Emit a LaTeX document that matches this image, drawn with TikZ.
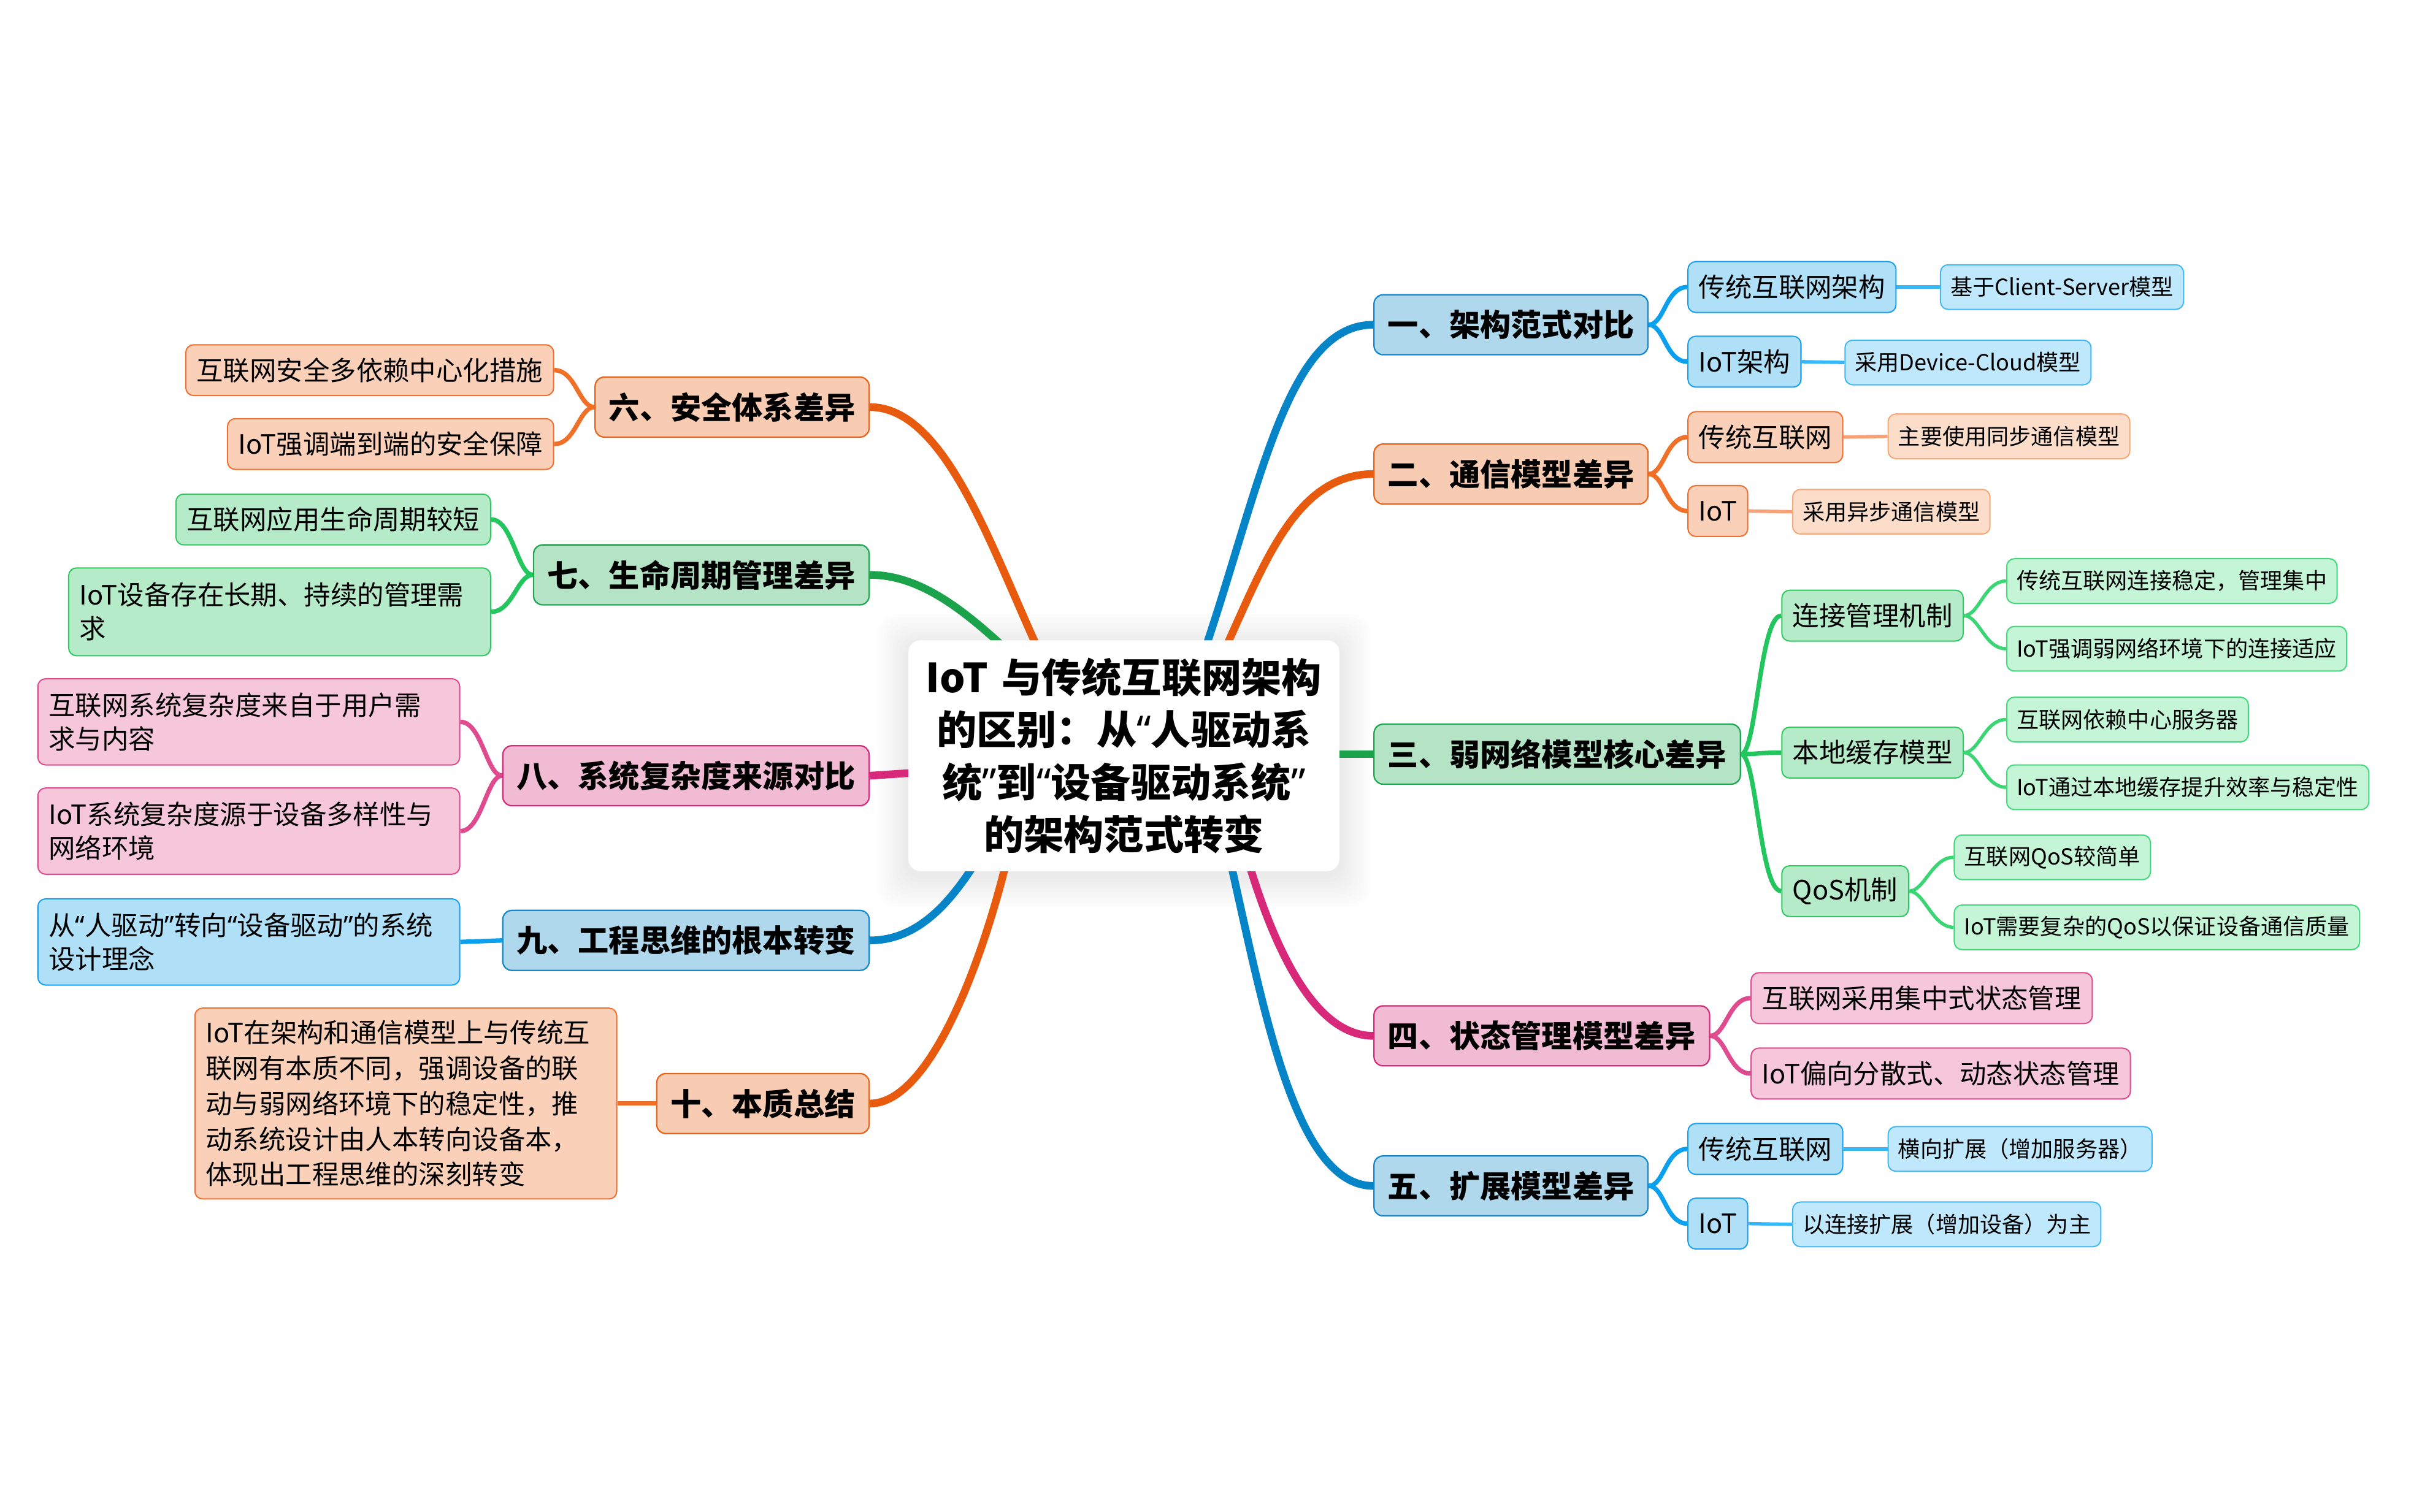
\documentclass[tikz,border=0pt]{standalone}
\usepackage{fontspec}
\setmainfont{Noto Sans CJK SC}
\newfontfamily\quotefont{Noto Sans}
\newcommand\oquote{{\quotefont “}}
\newcommand\cquote{{\quotefont ”}}
\usetikzlibrary{backgrounds}

\definecolor{blmain}{HTML}{0585C8}
\definecolor{blL1}{HTML}{B0D8EC}
\definecolor{blL1d}{HTML}{1488CC}
\definecolor{blsub}{HTML}{0AA0EE}
\definecolor{blL2}{HTML}{B0E0F8}
\definecolor{blL2d}{HTML}{1AA0EE}
\definecolor{blleaf}{HTML}{38B8F8}
\definecolor{blL3}{HTML}{C0E8FC}
\definecolor{blL3d}{HTML}{40B8F8}
\definecolor{ormain}{HTML}{E85A0E}
\definecolor{orL1}{HTML}{F8CCB2}
\definecolor{orL1d}{HTML}{E8641A}
\definecolor{orsub}{HTML}{F07028}
\definecolor{orL2}{HTML}{FAD0B8}
\definecolor{orL2d}{HTML}{F07030}
\definecolor{orleaf}{HTML}{F8A078}
\definecolor{orL3}{HTML}{FBDDCA}
\definecolor{orL3d}{HTML}{F8A878}
\definecolor{grmain}{HTML}{1AA34A}
\definecolor{grL1}{HTML}{B4E3C6}
\definecolor{grL1d}{HTML}{1EA650}
\definecolor{grsub}{HTML}{22C55E}
\definecolor{grL2}{HTML}{B6EBCA}
\definecolor{grL2d}{HTML}{30C860}
\definecolor{grleaf}{HTML}{3AD673}
\definecolor{grL3}{HTML}{C4F5D6}
\definecolor{grL3d}{HTML}{44D87C}
\definecolor{pkmain}{HTML}{D8287A}
\definecolor{pkL1}{HTML}{F2BBD4}
\definecolor{pkL1d}{HTML}{D82A7A}
\definecolor{pksub}{HTML}{E04A8E}
\definecolor{pkL2}{HTML}{F6C6DA}
\definecolor{pkL2d}{HTML}{E04A8E}

\begin{document}
\begin{tikzpicture}[x=1pt, y=-1pt,
	rootbox/.style={fill=white, rounded corners=8pt, minimum width=280pt, minimum height=150pt, text width=262pt, align=center, font=\bfseries\fontsize{26}{34}\selectfont},
	topicbox/.style={fill=#1L1, draw=#1L1d, rounded corners=6pt, line width=0.9pt, inner xsep=9pt, inner ysep=2pt, minimum height=39pt, font=\bfseries\fontsize{20}{24}\selectfont},
	subbox/.style={fill=#1L2, draw=#1L2d, rounded corners=5pt, line width=0.8pt, inner xsep=7pt, inner ysep=2pt, minimum height=33pt, font=\fontsize{17.3}{22}\selectfont},
	leafbox/.style={fill=#1L3, draw=#1L3d, rounded corners=5pt, line width=0.8pt, inner xsep=6.5pt, inner ysep=2pt, minimum height=29pt, font=\fontsize{14.4}{18}\selectfont},
	notebox/.style={subbox=#1, text width=260pt, align=left},
	mainline/.style={draw=#1main, line width=5pt},
	subline/.style={draw=#1sub, line width=2.9pt},
	leafline/.style={draw=#1leaf, line width=2.2pt}]
	\useasboundingbox (0,0) rectangle (1568,982);

	\node[rootbox] (root) at (730,491) {IoT 与传统互联网架构\\的区别：从\oquote 人驱动系\\统\cquote 到\oquote 设备驱动系统\cquote\\的架构范式转变};

	% right side
	\node[topicbox=bl, anchor=west] (a1) at (892,211) {一、架构范式对比};
	\node[subbox=bl, anchor=west] (a11) at (1096,186.5) {传统互联网架构};
	\node[leafbox=bl, anchor=west] (a111) at (1260,186.5) {基于Client-Server模型};
	\node[subbox=bl, anchor=west] (a12) at (1096,235) {IoT架构};
	\node[leafbox=bl, anchor=west] (a121) at (1198,235.5) {采用Device-Cloud模型};

	\node[topicbox=or, anchor=west] (a2) at (892,308) {二、通信模型差异};
	\node[subbox=or, anchor=west] (a21) at (1096,284) {传统互联网};
	\node[leafbox=or, anchor=west] (a211) at (1226,283.5) {主要使用同步通信模型};
	\node[subbox=or, anchor=west] (a22) at (1096,332) {IoT};
	\node[leafbox=or, anchor=west] (a221) at (1164,332.5) {采用异步通信模型};

	\node[topicbox=gr, anchor=west] (a3) at (892,490) {三、弱网络模型核心差异};
	\node[subbox=gr, anchor=west] (a31) at (1157,400) {连接管理机制};
	\node[leafbox=gr, anchor=west] (a311) at (1303,377.5) {传统互联网连接稳定，管理集中};
	\node[leafbox=gr, anchor=west] (a312) at (1303,421.5) {IoT强调弱网络环境下的连接适应};
	\node[subbox=gr, anchor=west] (a32) at (1157,489) {本地缓存模型};
	\node[leafbox=gr, anchor=west] (a321) at (1303,467.5) {互联网依赖中心服务器};
	\node[leafbox=gr, anchor=west] (a322) at (1303,511.5) {IoT通过本地缓存提升效率与稳定性};
	\node[subbox=gr, anchor=west] (a33) at (1157,579) {QoS机制};
	\node[leafbox=gr, anchor=west] (a331) at (1269,557) {互联网QoS较简单};
	\node[leafbox=gr, anchor=west] (a332) at (1269,602.5) {IoT需要复杂的QoS以保证设备通信质量};

	\node[topicbox=pk, anchor=west] (a4) at (892,673) {四、状态管理模型差异};
	\node[subbox=pk, anchor=west] (a41) at (1137,648.5) {互联网采用集中式状态管理};
	\node[subbox=pk, anchor=west] (a42) at (1137,697.5) {IoT偏向分散式、动态状态管理};

	\node[topicbox=bl, anchor=west] (a5) at (892,770.5) {五、扩展模型差异};
	\node[subbox=bl, anchor=west] (a51) at (1096,746.5) {传统互联网};
	\node[leafbox=bl, anchor=west] (a511) at (1226,746.5) {横向扩展（增加服务器）};
	\node[subbox=bl, anchor=west] (a52) at (1096,795) {IoT};
	\node[leafbox=bl, anchor=west] (a521) at (1164,795.5) {以连接扩展（增加设备）为主};

	% left side
	\node[topicbox=or, anchor=east] (a6) at (565,264.5) {六、安全体系差异};
	\node[subbox=or, anchor=east] (a61) at (360,240.5) {互联网安全多依赖中心化措施};
	\node[subbox=or, anchor=east] (a62) at (360,288.5) {IoT强调端到端的安全保障};

	\node[topicbox=gr, anchor=east] (a7) at (565,373.5) {七、生命周期管理差异};
	\node[subbox=gr, anchor=east] (a71) at (319,337.5) {互联网应用生命周期较短};
	\node[notebox=gr, anchor=east, minimum height=57pt] (a72) at (319,397.5) {IoT设备存在长期、持续的管理需\\求};

	\node[topicbox=pk, anchor=east] (a8) at (565,504) {八、系统复杂度来源对比};
	\node[notebox=pk, anchor=east, minimum height=56pt] (a81) at (299,469) {互联网系统复杂度来自于用户需\\求与内容};
	\node[notebox=pk, anchor=east, minimum height=56pt] (a82) at (299,540) {IoT系统复杂度源于设备多样性与\\网络环境};

	\node[topicbox=bl, anchor=east] (a9) at (565,611) {九、工程思维的根本转变};
	\node[notebox=bl, anchor=east, minimum height=56pt] (a91) at (299,612) {从\oquote 人驱动\cquote 转向\oquote 设备驱动\cquote 的系统\\设计理念};

	\node[topicbox=or, anchor=east] (a10) at (565,717) {十、本质总结};
	\node[notebox=or, anchor=east, minimum height=124pt, font=\fontsize{17.3}{23}\selectfont] (a101) at (401,717) {IoT在架构和通信模型上与传统互\\联网有本质不同，强调设备的联\\动与弱网络环境下的稳定性，推\\动系统设计由人本转向设备本，\\体现出工程思维的深刻转变};

	\begin{pgfonlayer}{background}
		\fill[white] (0,0) rectangle (1568,982);
		% soft shadow round the title
		\foreach \k in {2,4,...,20}
			\fill[black, opacity=0.006, rounded corners=12pt] ([shift={(-\k,-\k+3)}]root.north west) rectangle ([shift={(\k,\k+3)}]root.south east);

		% main branches
		\draw[mainline=bl] ([shift={(50,14)}]root.north) .. controls +(38,-110) and +(-57,0) .. (a1.west);
		\draw[mainline=or] ([shift={(62,14)}]root.north) .. controls +(28,-60) and +(-52,0) .. (a2.west);
		\draw[mainline=gr] (root.center |- a3.west) -- (a3.west);
		\draw[mainline=pk] ([shift={(78,-16)}]root.south) .. controls +(20,70) and +(-37,0) .. (a4.west);
		\draw[mainline=bl] ([shift={(67,-16)}]root.south) .. controls +(23,100) and +(-52,0) .. (a5.west);
		\draw[mainline=or] ([shift={(-52,14)}]root.north) .. controls +(-33,-70) and +(50,0) .. (a6.east);
		\draw[mainline=gr] ([shift={(-70,12)}]root.north) .. controls +(-30,-28) and +(35,0) .. (a7.east);
		\draw[mainline=pk] ([shift={(20,10)}]root.west) -- (a8.east);
		\draw[mainline=bl] ([shift={(-90,-16)}]root.south) .. controls +(-18,30) and +(35,0) .. (a9.east);
		\draw[mainline=or] ([shift={(-74,-16)}]root.south) .. controls +(-16,70) and +(40,0) .. (a10.east);

		% second level
		\foreach \c in {a11,a12}
			\draw[subline=bl] (a1.east) .. controls +(10,0) and +(-14,0) .. (\c.west);
		\foreach \c in {a21,a22}
			\draw[subline=or] (a2.east) .. controls +(10,0) and +(-14,0) .. (\c.west);
		\foreach \c in {a31,a32,a33}
			\draw[subline=gr] (a3.east) .. controls +(10,0) and +(-14,0) .. (\c.west);
		\foreach \c in {a41,a42}
			\draw[subline=pk] (a4.east) .. controls +(10,0) and +(-14,0) .. (\c.west);
		\foreach \c in {a51,a52}
			\draw[subline=bl] (a5.east) .. controls +(10,0) and +(-14,0) .. (\c.west);
		\foreach \c in {a61,a62}
			\draw[subline=or] (a6.west) .. controls +(-10,0) and +(14,0) .. (\c.east);
		\foreach \c in {a71,a72}
			\draw[subline=gr] (a7.west) .. controls +(-10,0) and +(14,0) .. (\c.east);
		\foreach \c in {a81,a82}
			\draw[subline=pk] (a8.west) .. controls +(-10,0) and +(14,0) .. (\c.east);
		\draw[subline=bl] (a9.west) -- (a91.east);
		\draw[subline=or] (a10.west) -- (a101.east);

		% third level
		\draw[leafline=bl] (a11.east) -- (a111.west);
		\draw[leafline=bl] (a12.east) -- (a121.west);
		\draw[leafline=or] (a21.east) -- (a211.west);
		\draw[leafline=or] (a22.east) -- (a221.west);
		\foreach \c in {a311,a312}
			\draw[leafline=gr] (a31.east) .. controls +(10,0) and +(-14,0) .. (\c.west);
		\foreach \c in {a321,a322}
			\draw[leafline=gr] (a32.east) .. controls +(10,0) and +(-14,0) .. (\c.west);
		\foreach \c in {a331,a332}
			\draw[leafline=gr] (a33.east) .. controls +(10,0) and +(-14,0) .. (\c.west);
		\draw[leafline=bl] (a51.east) -- (a511.west);
		\draw[leafline=bl] (a52.east) -- (a521.west);
	\end{pgfonlayer}
\end{tikzpicture}
\end{document}
